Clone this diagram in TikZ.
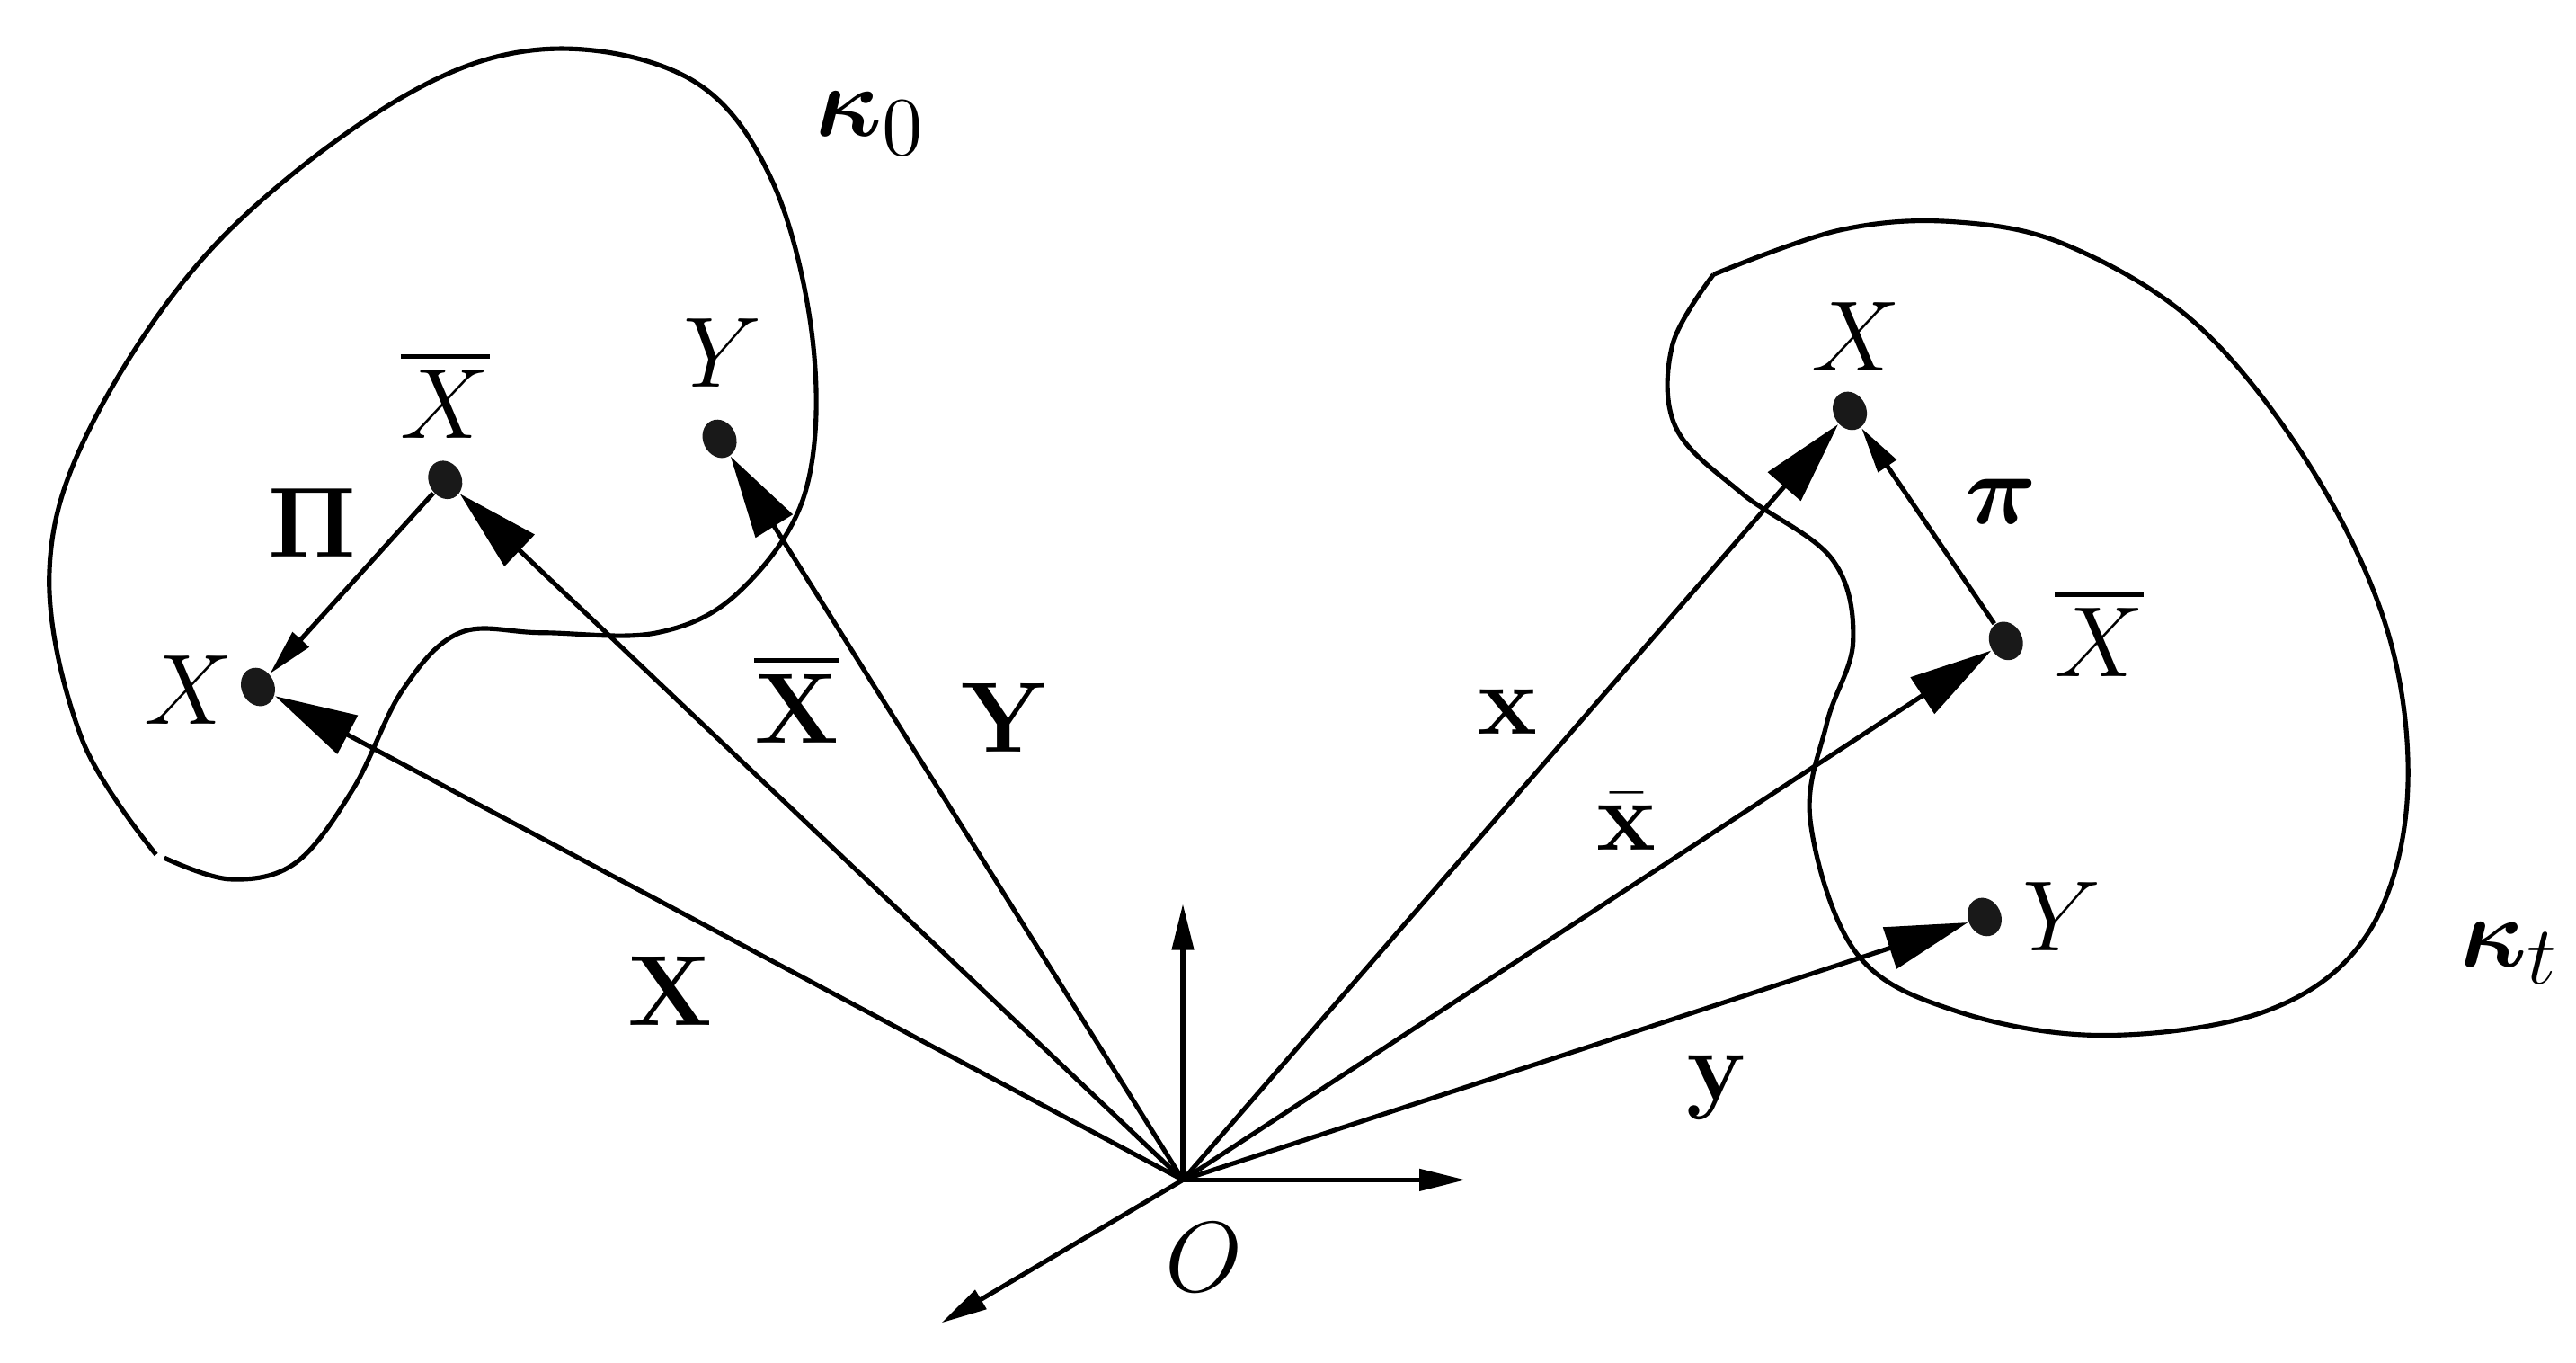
\documentclass[tikz,border=0pt]{standalone}
\usepackage{amsmath,bm}
\usetikzlibrary{arrows.meta,shapes.geometric}
\begin{document}
\begin{tikzpicture}[x=0.01cm,y=-0.01cm,
  lab/.style={font=\fontsize{19}{22}\selectfont},
  vec/.style={line width=0.8pt,-{Triangle[length=0.5cm,width=0.26cm]}},
  small/.style={line width=0.8pt,-{Triangle[length=0.28cm,width=0.13cm]}},
  dot/.style={fill=black!90,ellipse,minimum width=0.2cm,minimum height=0.24cm,inner sep=0pt,rotate=25},
  curve/.style={line width=0.8pt}]
\useasboundingbox (0,0) rectangle (1568,829);
\fill[white] (0,0) rectangle (1568,829);
% contours
\draw[curve] plot[smooth,tension=0.6] coordinates {(95,520) (50,450) (30,350) (55,260) (130,150) (240,62) (330,30) (420,48) (470,110) (495,210) (490,300) (450,360) (400,385) (330,385) (280,385) (245,420) (215,480) (180,525) (140,535) (100,522)};
\draw[curve] plot[smooth,tension=0.6] coordinates {(1043,167) (1120,140) (1190,135) (1260,150) (1340,200) (1410,290) (1455,390) (1465,490) (1440,570) (1380,615) (1280,630) (1190,615) (1130,580) (1102,500) (1112,440) (1128,390) (1115,340) (1060,300) (1020,260) (1018,210) (1043,167)};
% points
\node[dot] (LX) at (157,418) {};
\node[dot] (LXb) at (271,292) {};
\node[dot] (LY) at (438,267) {};
\node[dot] (RX) at (1126,250) {};
\node[dot] (RXb) at (1221,390) {};
\node[dot] (RY) at (1208,558) {};
\coordinate (O) at (720,718);
\coordinate (e1) at (892,718);
\coordinate (e2) at (720,550);
\coordinate (e3) at (573,805);
% axes
\draw[small] (O) -- (e1);
\draw[small] (O) -- (e2);
\draw[small] (O) -- (e3);
% vectors
\draw[vec] (O) -- (LX);
\draw[vec] (O) -- (LXb);
\draw[vec] (O) -- (LY);
\draw[vec] (O) -- (RX);
\draw[vec] (O) -- (RXb);
\draw[vec] (O) -- (RY);
\draw[small] (LXb) -- (LX);
\draw[small] (RXb) -- (RX);
% labels
\node[lab] at (530,75) {$\bm{\kappa}_0$};
\node[lab] at (1528,580) {$\bm{\kappa}_t$};
\node[lab] at (190,318) {$\mathbf{\Pi}$};
\node[lab] at (115,420) {$X$};
\node[lab] at (271,240) {$\overline{X}$};
\node[lab] at (440,215) {$Y$};
\node[lab] at (485,425) {$\overline{\mathbf{X}}$};
\node[lab] at (612,437) {$\mathbf{Y}$};
\node[lab] at (408,603) {$\mathbf{X}$};
\node[lab] at (733,765) {$O$};
\node[lab] at (918,433) {$\mathbf{x}$};
\node[lab] at (990,500) {$\bar{\mathbf{x}}$};
\node[lab] at (1045,662) {$\mathbf{y}$};
\node[lab] at (1130,205) {$X$};
\node[lab] at (1218,305) {$\bm{\pi}$};
\node[lab] at (1278,385) {$\overline{X}$};
\node[lab] at (1255,558) {$Y$};
\end{tikzpicture}
\end{document}
